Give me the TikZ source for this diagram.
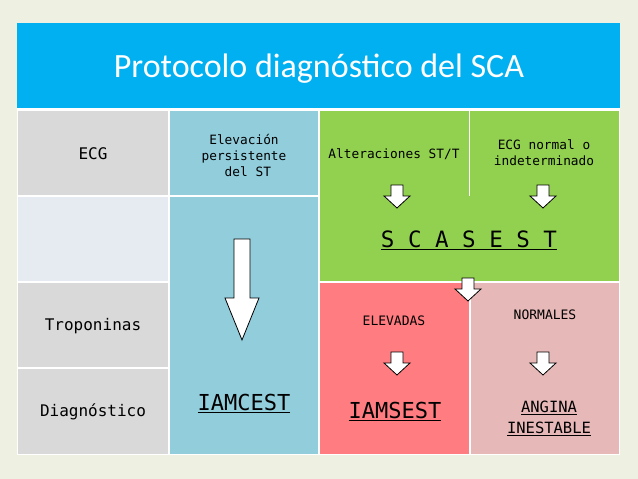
\documentclass[tikz,border=0pt]{standalone}
\usepackage{fontspec}
\setmainfont{Carlito}
\newfontfamily\mono{DejaVu Sans Mono}
\begin{document}
\begin{tikzpicture}[x=1pt,y=-1pt,
  lbl/.style={font=\mono\fontsize{12.8}{16}\selectfont,align=center,text=black},
  big/.style={font=\mono\fontsize{22}{26}\selectfont,align=center,text=black},
  barrow/.style={fill=white,draw=black,line width=0.8pt}]
\definecolor{bg}{HTML}{EEF1E1}
\definecolor{hdr}{HTML}{00B0F0}
\definecolor{gr1}{HTML}{D9D9D9}
\definecolor{gr2}{HTML}{E6EBF1}
\definecolor{blu}{HTML}{92CDDC}
\definecolor{grn}{HTML}{92D050}
\definecolor{red}{HTML}{FF7C80}
\definecolor{pnk}{HTML}{E6B8B7}
\fill[bg] (0,0) rectangle (638,479);
\useasboundingbox (0,0) rectangle (638,479);
\fill[white] (17,23) rectangle (620,455);
\fill[hdr] (17,23) rectangle (620,108);
\node[font=\fontsize{34}{38}\selectfont,text=white] (title) at (319,69) {Protocolo diagnóstico del SCA};
% column 1
\fill[gr1] (18,111) rectangle (168,195);
\fill[gr2] (18,197) rectangle (168,281);
\fill[gr1] (18,283) rectangle (168,367);
\fill[gr1] (18,369) rectangle (168,454);
\node[lbl,font=\mono\fontsize{16}{19}\selectfont] (ecg) at (93,154) {ECG};
\node[lbl,font=\mono\fontsize{16}{19}\selectfont] (trop) at (93,326) {Troponinas};
\node[lbl,font=\mono\fontsize{16}{19}\selectfont] (diag) at (93,412) {Diagnóstico};
% column 2
\fill[blu] (170,111) rectangle (318,195);
\fill[blu] (170,197) rectangle (318,454);
\node[lbl] (elev) at (244,155) {Elevación\\persistente\\\ del ST};
\node[big] (iamcest) at (244,403) {\underline{IAMCEST}};
\draw[barrow] (234,239) -- (250,239) -- (250,298) -- (259,298) -- (242,340) -- (225,298) -- (234,298) -- cycle;
% green
\fill[grn] (320,111) rectangle (469,197);
\fill[grn] (470,111) rectangle (619,197);
\fill[grn] (320,196) rectangle (619,281);
\node[lbl] (alt) at (394,154) {Alteraciones ST/T};
\node[lbl] (ecgn) at (544,153) {ECG normal o\\indeterminado};
\node[font=\mono\fontsize{22.5}{26}\selectfont] (scasest) at (469,240) {\underline{S C A S E S T}};
% red / pink
\fill[red] (320,283) rectangle (469,454);
\fill[pnk] (471,283) rectangle (619,454);
\node[lbl,font=\mono\fontsize{13}{15}\selectfont] (elevadas) at (394,321) {ELEVADAS};
\node[lbl,font=\mono\fontsize{13}{15}\selectfont] (normales) at (545,315) {NORMALES};
\node[big] (iamsest) at (395,411) {\underline{IAMSEST}};
\node[lbl,font=\mono\fontsize{15.5}{21}\selectfont] (angina) at (549,418) {\underline{ANGINA}\\\underline{INESTABLE}};
% small arrows
\foreach \cx/\ty in {397/185, 543/185, 468/278, 397/352, 543/352}{
  \draw[barrow] (\cx-6,\ty) -- (\cx+6,\ty) -- (\cx+6,\ty+11) -- (\cx+13,\ty+11) -- (\cx,\ty+23) -- (\cx-13,\ty+11) -- (\cx-6,\ty+11) -- cycle;
}
\end{tikzpicture}
\end{document}
